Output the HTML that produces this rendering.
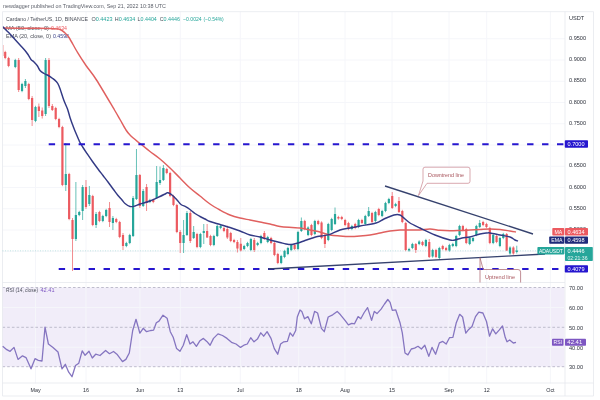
<!DOCTYPE html><html><head><meta charset="utf-8"><title>ADAUSDT chart</title><style>html,body{margin:0;padding:0;background:#fff;}body{width:600px;height:400px;overflow:hidden;}svg{display:block;filter:blur(0.3px);}text{font-family:'Liberation Sans', 'DejaVu Sans', sans-serif;}</style></head><body>
<svg width="600" height="400" viewBox="0 0 600 400">
<rect x="0" y="0" width="600" height="400" fill="#fff"/>
<rect x="2.5" y="287.5" width="562" height="79.2" fill="#f1edf9"/>
<path d="M2.5 38.75H565M2.5 60.00H565M2.5 81.25H565M2.5 102.50H565M2.5 123.75H565M2.5 145.00H565M2.5 166.25H565M2.5 187.50H565M2.5 208.75H565M2.5 230.00H565M2.5 251.25H565M35.50 11.7V383.5M86.00 11.7V383.5M140.00 11.7V383.5M180.30 11.7V383.5M240.30 11.7V383.5M298.70 11.7V383.5M345.00 11.7V383.5M392.00 11.7V383.5M449.00 11.7V383.5M486.70 11.7V383.5M550.40 11.7V383.5M2.5 307.50H565M2.5 347.20H565" stroke="#f5f6fa" stroke-width="1" fill="none"/>
<path d="M2.5 287.50H565" stroke="#b0afc0" stroke-width="0.8" stroke-dasharray="2.6 2.1" fill="none"/>
<path d="M2.5 327.30H565" stroke="#b0afc0" stroke-width="0.8" stroke-dasharray="2.6 2.1" fill="none"/>
<path d="M2.5 366.70H565" stroke="#b0afc0" stroke-width="0.8" stroke-dasharray="2.6 2.1" fill="none"/>
<path d="M2.5 11.7H593.5V396H2.5Z M565 11.7V396 M2.5 282.5H565 M2.5 383H593.5" stroke="#e6e8ee" stroke-width="0.8" fill="none"/>
<text x="3" y="7.6" font-size="5.6" fill="#5a5e68" textLength="163" lengthAdjust="spacingAndGlyphs">newdagger published on TradingView.com, Sep 21, 2022 10:38 UTC</text>
<text x="6" y="21" font-size="5.6" fill="#4a4e58" textLength="82" lengthAdjust="spacingAndGlyphs">Cardano / TetherUS, 1D, BINANCE</text>
<text x="91.50" y="21" font-size="5.6" fill="#26a69a" textLength="21.00" lengthAdjust="spacingAndGlyphs"><tspan fill="#4a4e58">O</tspan>0.4423</text>
<text x="114.80" y="21" font-size="5.6" fill="#26a69a" textLength="20.50" lengthAdjust="spacingAndGlyphs"><tspan fill="#4a4e58">H</tspan>0.4634</text>
<text x="137.60" y="21" font-size="5.6" fill="#26a69a" textLength="19.20" lengthAdjust="spacingAndGlyphs"><tspan fill="#4a4e58">L</tspan>0.4404</text>
<text x="159.70" y="21" font-size="5.6" fill="#26a69a" textLength="20.30" lengthAdjust="spacingAndGlyphs"><tspan fill="#4a4e58">C</tspan>0.4446</text>
<text x="183.00" y="21" font-size="5.6" fill="#26a69a" textLength="18.70" lengthAdjust="spacingAndGlyphs">&#8722;0.0024</text>
<text x="203.40" y="21" font-size="5.6" fill="#26a69a" textLength="20.40" lengthAdjust="spacingAndGlyphs">(&#8722;0.54%)</text>
<text x="6" y="29.5" font-size="5.6" fill="#4a4e58" textLength="43" lengthAdjust="spacingAndGlyphs">MA (50, close, 0)</text>
<text x="51" y="29.5" font-size="5.6" fill="#ec5a60" textLength="16" lengthAdjust="spacingAndGlyphs">0.4634</text>
<text x="6" y="37.8" font-size="5.6" fill="#4a4e58" textLength="45" lengthAdjust="spacingAndGlyphs">EMA (20, close, 0)</text>
<text x="53" y="37.8" font-size="5.6" fill="#333a85" textLength="16" lengthAdjust="spacingAndGlyphs">0.4598</text>
<text x="569" y="20.2" font-size="5.6" fill="#2e323c">USDT</text>
<text x="569" y="39.85" font-size="6.1" fill="#2e323c" textLength="17" lengthAdjust="spacingAndGlyphs">0.9500</text>
<text x="569" y="61.10" font-size="6.1" fill="#2e323c" textLength="17" lengthAdjust="spacingAndGlyphs">0.9000</text>
<text x="569" y="82.35" font-size="6.1" fill="#2e323c" textLength="17" lengthAdjust="spacingAndGlyphs">0.8500</text>
<text x="569" y="103.60" font-size="6.1" fill="#2e323c" textLength="17" lengthAdjust="spacingAndGlyphs">0.8000</text>
<text x="569" y="124.85" font-size="6.1" fill="#2e323c" textLength="17" lengthAdjust="spacingAndGlyphs">0.7500</text>
<text x="569" y="167.35" font-size="6.1" fill="#2e323c" textLength="17" lengthAdjust="spacingAndGlyphs">0.6500</text>
<text x="569" y="188.60" font-size="6.1" fill="#2e323c" textLength="17" lengthAdjust="spacingAndGlyphs">0.6000</text>
<text x="569" y="209.85" font-size="6.1" fill="#2e323c" textLength="17" lengthAdjust="spacingAndGlyphs">0.5500</text>
<text x="569" y="231.10" font-size="6.1" fill="#2e323c" textLength="17" lengthAdjust="spacingAndGlyphs">0.5000</text>
<text x="569" y="290.00" font-size="5.6" fill="#2e323c" textLength="14" lengthAdjust="spacingAndGlyphs">70.00</text>
<text x="569" y="309.50" font-size="5.6" fill="#2e323c" textLength="14" lengthAdjust="spacingAndGlyphs">60.00</text>
<text x="569" y="329.50" font-size="5.6" fill="#2e323c" textLength="14" lengthAdjust="spacingAndGlyphs">50.00</text>
<text x="569" y="349.50" font-size="5.6" fill="#2e323c" textLength="14" lengthAdjust="spacingAndGlyphs">40.00</text>
<text x="569" y="368.70" font-size="5.6" fill="#2e323c" textLength="14" lengthAdjust="spacingAndGlyphs">30.00</text>
<text x="35.50" y="391.8" font-size="5.4" fill="#2e323c" text-anchor="middle">May</text>
<text x="86.00" y="391.8" font-size="5.4" fill="#2e323c" text-anchor="middle">16</text>
<text x="140.00" y="391.8" font-size="5.4" fill="#2e323c" text-anchor="middle">Jun</text>
<text x="180.30" y="391.8" font-size="5.4" fill="#2e323c" text-anchor="middle">13</text>
<text x="240.30" y="391.8" font-size="5.4" fill="#2e323c" text-anchor="middle">Jul</text>
<text x="298.70" y="391.8" font-size="5.4" fill="#2e323c" text-anchor="middle">18</text>
<text x="345.00" y="391.8" font-size="5.4" fill="#2e323c" text-anchor="middle">Aug</text>
<text x="392.00" y="391.8" font-size="5.4" fill="#2e323c" text-anchor="middle">15</text>
<text x="449.00" y="391.8" font-size="5.4" fill="#2e323c" text-anchor="middle">Sep</text>
<text x="486.70" y="391.8" font-size="5.4" fill="#2e323c" text-anchor="middle">12</text>
<text x="550.40" y="391.8" font-size="5.4" fill="#2e323c" text-anchor="middle">Oct</text>
<path d="M2.5 250.8H565" stroke="#26a69a" stroke-width="0.6" stroke-dasharray="1 1.5" fill="none" opacity="0.45"/>
<defs><clipPath id="mp"><rect x="2.9" y="12" width="562" height="270.3"/></clipPath></defs><g clip-path="url(#mp)">
<path d="M5.21 50.80V59.20M8.58 56.80V67.20M18.67 58.00V92.00M28.77 82.80V100.20M32.13 96.00V126.00M38.87 103.50V117.00M42.23 107.50V118.50M48.96 58.00V108.00M52.33 104.00V111.00M55.69 106.80V120.20M59.06 117.80V128.20M62.42 125.80V186.20M69.15 172.80V220.20M72.52 218.00V271.00M85.98 180.00V209.00M92.71 194.80V226.20M99.44 210.80V222.20M109.54 202.00V227.00M116.27 217.80V223.20M119.64 220.80V238.20M123.00 233.00V250.00M139.83 174.00V208.00M146.56 184.00V211.00M153.29 198.80V203.20M166.75 167.80V174.20M170.12 171.80V197.20M173.48 194.80V206.20M176.85 203.80V233.20M180.21 230.00V253.00M190.31 211.00V243.00M197.04 232.80V248.20M207.14 224.00V238.00M210.50 234.80V246.20M223.96 226.80V232.20M227.33 225.60V239.00M230.69 231.80V242.20M234.06 238.80V243.20M237.42 240.00V252.50M240.79 238.00V251.50M254.25 238.00V252.00M264.35 231.00V240.00M271.08 236.80V244.20M274.44 241.80V256.20M277.81 252.80V264.20M294.64 243.80V250.20M304.73 219.80V230.20M311.46 223.80V236.20M318.19 219.80V225.20M321.56 221.30V239.20M324.92 234.00V248.00M338.39 215.80V219.70M341.75 215.80V220.20M345.12 218.80V226.20M348.48 221.80V230.20M355.21 222.80V229.20M361.94 218.80V224.20M372.04 211.80V223.20M378.77 207.80V216.20M392.23 192.00V209.00M398.96 197.00V213.00M402.33 209.80V223.20M405.69 221.80V251.20M415.79 243.00V253.00M422.52 240.80V246.20M429.25 239.00V258.00M435.98 248.80V258.20M442.71 244.80V250.20M446.08 246.80V251.20M462.91 224.80V231.20M466.27 227.80V244.20M483.10 220.80V226.20M486.46 222.80V228.20M489.83 226.80V244.20M496.56 234.80V243.20M506.66 233.00V251.00M513.39 246.30V254.70" stroke="#ec5a60" stroke-width="0.7" fill="none"/>
<path d="M4.11 52.00h2.20v6.00h-2.20zM7.48 58.00h2.20v8.00h-2.20zM17.57 60.00h2.20v30.00h-2.20zM27.67 84.00h2.20v15.00h-2.20zM31.03 98.00h2.20v22.00h-2.20zM37.77 106.50h2.20v4.50h-2.20zM41.13 110.50h2.20v5.50h-2.20zM47.86 60.00h2.20v46.00h-2.20zM51.23 106.00h2.20v4.00h-2.20zM54.59 108.00h2.20v11.00h-2.20zM57.96 119.00h2.20v8.00h-2.20zM61.32 127.00h2.20v58.00h-2.20zM68.05 174.00h2.20v45.00h-2.20zM71.42 220.00h2.20v19.00h-2.20zM84.88 187.00h2.20v20.00h-2.20zM91.61 196.00h2.20v29.00h-2.20zM98.34 212.00h2.20v9.00h-2.20zM108.44 208.00h2.20v14.00h-2.20zM115.17 219.00h2.20v3.00h-2.20zM118.54 222.00h2.20v15.00h-2.20zM121.90 235.00h2.20v11.00h-2.20zM138.73 175.00h2.20v31.00h-2.20zM145.46 187.00h2.20v16.00h-2.20zM152.19 200.00h2.20v2.00h-2.20zM165.65 169.00h2.20v4.00h-2.20zM169.02 173.00h2.20v23.00h-2.20zM172.38 196.00h2.20v9.00h-2.20zM175.75 205.00h2.20v27.00h-2.20zM179.11 232.00h2.20v11.00h-2.20zM189.21 213.00h2.20v28.00h-2.20zM195.94 234.00h2.20v13.00h-2.20zM206.04 231.00h2.20v6.50h-2.20zM209.40 236.00h2.20v9.00h-2.20zM222.86 228.00h2.20v3.00h-2.20zM226.23 229.00h2.20v8.50h-2.20zM229.59 233.00h2.20v8.00h-2.20zM232.96 240.00h2.20v2.00h-2.20zM236.32 242.00h2.20v6.50h-2.20zM239.69 243.75h2.20v6.85h-2.20zM253.15 240.00h2.20v10.00h-2.20zM263.25 233.00h2.20v6.00h-2.20zM269.98 238.00h2.20v5.00h-2.20zM273.34 243.00h2.20v12.00h-2.20zM276.71 254.00h2.20v9.00h-2.20zM293.54 245.00h2.20v4.00h-2.20zM303.63 221.00h2.20v8.00h-2.20zM310.36 225.00h2.20v10.00h-2.20zM317.09 221.00h2.20v3.00h-2.20zM320.46 222.50h2.20v15.50h-2.20zM323.82 236.00h2.20v8.00h-2.20zM337.29 217.00h2.20v1.50h-2.20zM340.65 217.00h2.20v2.00h-2.20zM344.02 220.00h2.20v5.00h-2.20zM347.38 223.00h2.20v6.00h-2.20zM354.11 224.00h2.20v4.00h-2.20zM360.84 220.00h2.20v3.00h-2.20zM370.94 213.00h2.20v9.00h-2.20zM377.67 209.00h2.20v6.00h-2.20zM391.13 196.00h2.20v12.00h-2.20zM397.86 201.00h2.20v11.00h-2.20zM401.23 211.00h2.20v11.00h-2.20zM404.59 223.00h2.20v27.00h-2.20zM414.69 244.00h2.20v6.00h-2.20zM421.42 242.00h2.20v3.00h-2.20zM428.15 242.00h2.20v15.00h-2.20zM434.88 250.00h2.20v7.00h-2.20zM441.61 246.00h2.20v3.00h-2.20zM444.98 248.00h2.20v2.00h-2.20zM461.81 226.00h2.20v4.00h-2.20zM465.17 229.00h2.20v14.00h-2.20zM482.00 222.00h2.20v3.00h-2.20zM485.36 224.00h2.20v3.00h-2.20zM488.73 228.00h2.20v15.00h-2.20zM495.46 236.00h2.20v6.00h-2.20zM505.56 234.00h2.20v16.50h-2.20zM512.29 247.50h2.20v6.00h-2.20z" fill="#ec5a60"/>
<path d="M15.31 58.80V68.20M22.04 82.80V92.20M25.40 79.00V88.00M35.50 105.80V122.20M45.60 58.00V116.00M65.79 143.00V191.00M75.88 182.00V241.00M79.25 210.80V216.20M82.62 185.00V220.00M89.35 186.00V206.00M96.08 212.00V228.00M102.81 214.80V222.20M106.17 208.80V217.20M112.90 216.00V230.00M126.37 241.80V247.20M129.73 233.80V244.20M133.10 196.00V237.00M136.46 149.00V200.00M143.19 189.00V207.00M149.92 198.80V203.20M156.65 166.00V199.00M160.02 166.50V185.00M163.39 165.00V181.00M183.58 220.00V253.00M186.94 211.00V236.00M193.67 226.00V239.00M200.40 232.80V248.20M203.77 224.00V244.00M213.87 234.80V246.20M217.23 224.50V237.00M220.60 224.80V229.20M244.15 244.80V250.20M247.52 241.80V247.20M250.89 237.80V251.20M257.62 241.80V246.20M260.98 234.80V244.20M267.71 235.80V243.20M281.17 254.80V264.20M284.54 249.80V258.20M287.90 246.80V255.20M291.27 243.80V251.20M298.00 230.80V250.20M301.37 217.50V232.00M308.10 226.30V236.20M314.83 219.80V235.20M328.29 222.80V241.20M331.66 217.80V231.20M335.02 207.50V225.00M351.85 224.80V230.20M358.58 218.80V228.20M365.31 214.80V225.20M368.67 207.00V217.00M375.41 210.80V222.20M382.14 209.80V217.20M385.50 201.80V212.20M388.87 197.80V204.20M395.60 202.80V207.20M409.06 247.80V251.70M412.42 242.80V249.20M419.16 240.30V245.20M425.89 238.80V247.20M432.62 248.80V257.70M439.35 246.80V259.20M449.44 243.80V251.70M452.81 242.80V247.20M456.18 234.80V247.20M459.54 224.80V236.20M469.64 236.80V245.20M473.00 236.80V242.20M476.37 224.80V236.20M479.73 220.00V228.00M493.19 233.80V244.20M499.93 236.80V247.20M503.29 232.80V239.20M510.02 246.30V254.70M516.75 245.70V253.50" stroke="#26a69a" stroke-width="0.7" fill="none"/>
<path d="M14.21 60.00h2.20v7.00h-2.20zM20.94 84.00h2.20v7.00h-2.20zM24.30 81.00h2.20v5.00h-2.20zM34.40 107.00h2.20v14.00h-2.20zM44.50 60.00h2.20v54.00h-2.20zM64.69 174.00h2.20v11.00h-2.20zM74.78 215.00h2.20v24.00h-2.20zM78.15 212.00h2.20v3.00h-2.20zM81.52 187.00h2.20v24.00h-2.20zM88.25 195.00h2.20v9.00h-2.20zM94.98 214.00h2.20v11.00h-2.20zM101.71 216.00h2.20v5.00h-2.20zM105.07 210.00h2.20v6.00h-2.20zM111.80 218.00h2.20v5.00h-2.20zM125.27 243.00h2.20v3.00h-2.20zM128.63 235.00h2.20v8.00h-2.20zM132.00 198.00h2.20v38.00h-2.20zM135.36 175.00h2.20v24.00h-2.20zM142.09 191.00h2.20v15.00h-2.20zM148.82 200.00h2.20v2.00h-2.20zM155.55 182.00h2.20v16.00h-2.20zM158.92 180.00h2.20v3.00h-2.20zM162.29 168.00h2.20v12.00h-2.20zM182.48 235.00h2.20v8.00h-2.20zM185.84 213.00h2.20v22.00h-2.20zM192.57 232.00h2.20v6.00h-2.20zM199.30 234.00h2.20v13.00h-2.20zM202.67 231.00h2.20v2.00h-2.20zM212.77 236.00h2.20v9.00h-2.20zM216.13 226.00h2.20v10.00h-2.20zM219.50 226.00h2.20v2.00h-2.20zM243.05 246.00h2.20v3.00h-2.20zM246.42 243.00h2.20v3.00h-2.20zM249.79 239.00h2.20v11.00h-2.20zM256.52 243.00h2.20v2.00h-2.20zM259.88 236.00h2.20v7.00h-2.20zM266.61 237.00h2.20v5.00h-2.20zM280.07 256.00h2.20v7.00h-2.20zM283.44 251.00h2.20v6.00h-2.20zM286.80 248.00h2.20v6.00h-2.20zM290.17 245.00h2.20v5.00h-2.20zM296.90 232.00h2.20v17.00h-2.20zM300.27 221.00h2.20v10.00h-2.20zM307.00 227.50h2.20v7.50h-2.20zM313.73 221.00h2.20v13.00h-2.20zM327.19 224.00h2.20v16.00h-2.20zM330.56 219.00h2.20v11.00h-2.20zM333.92 214.00h2.20v10.00h-2.20zM350.75 226.00h2.20v3.00h-2.20zM357.48 220.00h2.20v7.00h-2.20zM364.21 216.00h2.20v8.00h-2.20zM367.57 211.00h2.20v5.00h-2.20zM374.31 212.00h2.20v9.00h-2.20zM381.04 211.00h2.20v5.00h-2.20zM384.40 203.00h2.20v8.00h-2.20zM387.77 199.00h2.20v4.00h-2.20zM394.50 204.00h2.20v2.00h-2.20zM407.96 249.00h2.20v1.50h-2.20zM411.32 244.00h2.20v4.00h-2.20zM418.06 241.50h2.20v2.50h-2.20zM424.79 240.00h2.20v6.00h-2.20zM431.52 250.00h2.20v6.50h-2.20zM438.25 248.00h2.20v10.00h-2.20zM448.34 245.00h2.20v5.50h-2.20zM451.71 244.00h2.20v2.00h-2.20zM455.07 236.00h2.20v10.00h-2.20zM458.44 226.00h2.20v9.00h-2.20zM468.54 238.00h2.20v6.00h-2.20zM471.90 238.00h2.20v3.00h-2.20zM475.27 226.00h2.20v9.00h-2.20zM478.63 223.00h2.20v4.00h-2.20zM492.09 235.00h2.20v8.00h-2.20zM498.83 238.00h2.20v8.00h-2.20zM502.19 234.00h2.20v4.00h-2.20zM508.92 247.50h2.20v6.00h-2.20zM515.65 250.60h2.20v1.50h-2.20z" fill="#26a69a"/>
<path d="M3.00 28.00 C7.50 28.05 22.17 28.22 30.00 28.30 C37.83 28.38 45.00 28.30 50.00 28.50 C55.00 28.70 57.50 28.75 60.00 29.50 C62.50 30.25 63.50 31.67 65.00 33.00 C66.50 34.33 66.92 34.27 69.00 37.50 C71.08 40.73 74.67 47.73 77.50 52.40 C80.33 57.07 82.83 60.90 86.00 65.50 C89.17 70.10 91.75 72.58 96.50 80.00 C101.25 87.42 110.58 103.42 114.50 110.00 C118.42 116.58 118.08 116.17 120.00 119.50 C121.92 122.83 124.33 127.42 126.00 130.00 C127.67 132.58 128.00 133.00 130.00 135.00 C132.00 137.00 136.00 140.33 138.00 142.00 C140.00 143.67 140.00 143.42 142.00 145.00 C144.00 146.58 147.00 149.17 150.00 151.50 C153.00 153.83 156.67 156.25 160.00 159.00 C163.33 161.75 166.67 164.83 170.00 168.00 C173.33 171.17 176.67 174.67 180.00 178.00 C183.33 181.33 186.67 185.00 190.00 188.00 C193.33 191.00 196.67 193.33 200.00 196.00 C203.33 198.67 206.67 201.67 210.00 204.00 C213.33 206.33 216.67 208.17 220.00 210.00 C223.33 211.83 226.67 213.67 230.00 215.00 C233.33 216.33 236.67 217.17 240.00 218.00 C243.33 218.83 246.67 219.33 250.00 220.00 C253.33 220.67 256.67 221.33 260.00 222.00 C263.33 222.67 266.67 223.25 270.00 224.00 C273.33 224.75 276.33 225.92 280.00 226.50 C283.67 227.08 288.67 227.25 292.00 227.50 C295.33 227.75 297.00 227.58 300.00 228.00 C303.00 228.42 307.00 229.42 310.00 230.00 C313.00 230.58 314.67 230.67 318.00 231.50 C321.33 232.33 326.33 234.25 330.00 235.00 C333.67 235.75 336.67 235.75 340.00 236.00 C343.33 236.25 346.67 236.50 350.00 236.50 C353.33 236.50 356.67 236.25 360.00 236.00 C363.33 235.75 366.67 235.50 370.00 235.00 C373.33 234.50 376.67 233.67 380.00 233.00 C383.33 232.33 386.67 231.50 390.00 231.00 C393.33 230.50 396.67 230.17 400.00 230.00 C403.33 229.83 406.67 230.00 410.00 230.00 C413.33 230.00 416.67 230.17 420.00 230.00 C423.33 229.83 426.67 228.95 430.00 229.00 C433.33 229.05 436.67 230.00 440.00 230.30 C443.33 230.60 446.67 230.77 450.00 230.80 C453.33 230.83 456.67 230.63 460.00 230.50 C463.33 230.37 466.67 230.17 470.00 230.00 C473.33 229.83 476.67 229.67 480.00 229.50 C483.33 229.33 486.67 229.00 490.00 229.00 C493.33 229.00 496.67 229.17 500.00 229.50 C503.33 229.83 507.33 230.58 510.00 231.00 C512.67 231.42 515.00 231.83 516.00 232.00" stroke="#e0605f" stroke-width="1.45" fill="none" stroke-linejoin="round"/>
<path d="M2.50 26.50 C3.25 27.25 5.75 29.75 7.00 31.00 C8.25 32.25 8.67 32.58 10.00 34.00 C11.33 35.42 13.33 37.67 15.00 39.50 C16.67 41.33 18.33 43.17 20.00 45.00 C21.67 46.83 23.67 48.92 25.00 50.50 C26.33 52.08 27.00 53.00 28.00 54.50 C29.00 56.00 30.00 58.25 31.00 59.50 C32.00 60.75 32.92 60.92 34.00 62.00 C35.08 63.08 36.50 64.58 37.50 66.00 C38.50 67.42 38.92 69.25 40.00 70.50 C41.08 71.75 42.55 72.62 44.00 73.50 C45.45 74.38 47.37 75.00 48.70 75.75 C50.03 76.50 50.83 77.12 52.00 78.00 C53.17 78.88 54.53 79.67 55.70 81.00 C56.87 82.33 57.66 82.83 59.00 86.00 C60.34 89.17 62.33 96.17 63.75 100.00 C65.17 103.83 66.46 106.08 67.50 109.00 C68.54 111.92 69.17 114.92 70.00 117.50 C70.83 120.08 71.67 122.25 72.50 124.50 C73.33 126.75 74.08 128.75 75.00 131.00 C75.92 133.25 77.17 136.08 78.00 138.00 C78.83 139.92 79.17 140.92 80.00 142.50 C80.83 144.08 81.83 145.67 83.00 147.50 C84.17 149.33 85.42 151.17 87.00 153.50 C88.58 155.83 90.67 158.92 92.50 161.50 C94.33 164.08 96.25 166.67 98.00 169.00 C99.75 171.33 101.33 173.33 103.00 175.50 C104.67 177.67 106.25 179.67 108.00 182.00 C109.75 184.33 111.83 187.25 113.50 189.50 C115.17 191.75 116.58 193.75 118.00 195.50 C119.42 197.25 120.83 198.67 122.00 200.00 C123.17 201.33 123.67 202.42 125.00 203.50 C126.33 204.58 128.33 206.08 130.00 206.50 C131.67 206.92 133.33 206.42 135.00 206.00 C136.67 205.58 137.50 204.83 140.00 204.00 C142.50 203.17 146.67 202.25 150.00 201.00 C153.33 199.75 157.33 197.75 160.00 196.50 C162.67 195.25 164.67 194.12 166.00 193.50 C167.33 192.88 167.00 192.55 168.00 192.80 C169.00 193.05 170.50 193.80 172.00 195.00 C173.50 196.20 175.50 198.42 177.00 200.00 C178.50 201.58 179.50 203.37 181.00 204.50 C182.50 205.63 184.50 205.97 186.00 206.80 C187.50 207.63 188.50 208.38 190.00 209.50 C191.50 210.62 193.33 212.33 195.00 213.50 C196.67 214.67 198.33 215.58 200.00 216.50 C201.67 217.42 203.33 218.17 205.00 219.00 C206.67 219.83 207.50 220.58 210.00 221.50 C212.50 222.42 216.67 223.50 220.00 224.50 C223.33 225.50 226.67 226.42 230.00 227.50 C233.33 228.58 236.67 229.75 240.00 231.00 C243.33 232.25 246.67 234.00 250.00 235.00 C253.33 236.00 256.67 236.17 260.00 237.00 C263.33 237.83 266.67 239.08 270.00 240.00 C273.33 240.92 277.33 241.83 280.00 242.50 C282.67 243.17 284.00 243.67 286.00 244.00 C288.00 244.33 290.00 244.67 292.00 244.50 C294.00 244.33 295.83 243.67 298.00 243.00 C300.17 242.33 302.83 241.25 305.00 240.50 C307.17 239.75 308.92 239.17 311.00 238.50 C313.08 237.83 315.38 236.98 317.50 236.50 C319.62 236.02 321.67 235.95 323.75 235.60 C325.83 235.25 327.29 235.33 330.00 234.40 C332.71 233.47 336.67 231.07 340.00 230.00 C343.33 228.93 346.67 228.67 350.00 228.00 C353.33 227.33 355.67 226.83 360.00 226.00 C364.33 225.17 372.00 224.17 376.00 223.00 C380.00 221.83 381.00 220.33 384.00 219.00 C387.00 217.67 391.33 215.67 394.00 215.00 C396.67 214.33 398.17 214.33 400.00 215.00 C401.83 215.67 403.33 217.67 405.00 219.00 C406.67 220.33 407.50 221.50 410.00 223.00 C412.50 224.50 415.83 226.00 420.00 228.00 C424.17 230.00 430.00 233.00 435.00 235.00 C440.00 237.00 446.67 239.17 450.00 240.00 C453.33 240.83 453.00 240.33 455.00 240.00 C457.00 239.67 459.50 238.50 462.00 238.00 C464.50 237.50 467.00 237.67 470.00 237.00 C473.00 236.33 477.17 234.67 480.00 234.00 C482.83 233.33 485.33 233.17 487.00 233.00 C488.67 232.83 487.83 232.67 490.00 233.00 C492.17 233.33 496.67 234.33 500.00 235.00 C503.33 235.67 507.50 236.17 510.00 237.00 C512.50 237.83 513.67 239.33 515.00 240.00 C516.33 240.67 517.50 240.83 518.00 241.00" stroke="#333a85" stroke-width="1.45" fill="none" stroke-linejoin="round"/>
<path d="M3.2 45V56" stroke="#ec5a60" stroke-width="1" opacity="0.45"/>
</g>
<path d="M48.7 144.2H565" stroke="#2616cf" stroke-width="2" stroke-dasharray="6.4 8.55" fill="none"/>
<path d="M58.7 269H565" stroke="#2616cf" stroke-width="2" stroke-dasharray="6.4 8.55" fill="none"/>
<path d="M385 186L533 234" stroke="#36426e" stroke-width="1.35" fill="none"/>
<path d="M268.3 269L545 254" stroke="#36426e" stroke-width="1.35" fill="none"/>
<path d="M425 167.2H468Q470 167.2 470 169.2V181.3Q470 183.3 468 183.3H427L418.5 195.5L423 181V169.2Q423 167.2 425 167.2Z" fill="#fff" stroke="#c9848e" stroke-width="0.7"/>
<text x="428" y="176.8" font-size="4.6" fill="#a8545c" textLength="36" lengthAdjust="spacingAndGlyphs">Downtrend line</text>
<path d="M480 257.7V282.5 M480 257.7L483.2 269.5H518Q520.6 269.5 520.6 272.1V282.5" fill="none" stroke="#b07078" stroke-width="0.8"/>
<text x="485" y="279.3" font-size="4.6" fill="#a8545c" textLength="30" lengthAdjust="spacingAndGlyphs">Uptrend line</text>
<rect x="564.80" y="140.30" width="23.20" height="7.40" fill="#2616cf" rx="0.8"/>
<text x="567.50" y="146.00" font-size="5.4" fill="#fff" textLength="17" lengthAdjust="spacingAndGlyphs">0.7000</text>
<rect x="552.30" y="228.00" width="12.00" height="7.50" fill="#ec5a60" rx="0.8"/>
<text x="558.30" y="233.80" font-size="5.2" fill="#fff" text-anchor="middle">MA</text>
<rect x="565.00" y="228.00" width="23.00" height="7.50" fill="#ec5a60" rx="0.8"/>
<text x="567.50" y="233.80" font-size="5.4" fill="#fff" textLength="17" lengthAdjust="spacingAndGlyphs">0.4634</text>
<rect x="549.20" y="236.60" width="15.20" height="7.20" fill="#1f2a7a" rx="0.8"/>
<text x="556.80" y="242.20" font-size="5.2" fill="#fff" text-anchor="middle">EMA</text>
<rect x="565.00" y="236.60" width="23.00" height="7.20" fill="#1f2a7a" rx="0.8"/>
<text x="567.50" y="242.20" font-size="5.4" fill="#fff" textLength="17" lengthAdjust="spacingAndGlyphs">0.4598</text>
<rect x="537.40" y="247.00" width="27.00" height="7.40" fill="#26a69a" rx="0.8"/>
<text x="550.90" y="252.80" font-size="5.0" fill="#fff" textLength="24" lengthAdjust="spacingAndGlyphs" text-anchor="middle">ADAUSDT</text>
<rect x="565.00" y="247.00" width="27.80" height="14.00" fill="#26a69a" rx="0.8"/>
<text x="567.50" y="252.80" font-size="5.4" fill="#fff" textLength="17" lengthAdjust="spacingAndGlyphs">0.4446</text>
<text x="567.50" y="259.60" font-size="5.0" fill="#e8f6f4" textLength="20" lengthAdjust="spacingAndGlyphs">02:21:36</text>
<rect x="564.80" y="265.20" width="23.20" height="7.40" fill="#2616cf" rx="0.8"/>
<text x="567.50" y="270.90" font-size="5.4" fill="#fff" textLength="17" lengthAdjust="spacingAndGlyphs">0.4079</text>
<path d="M2.70 346.30 L6.80 349.70 L10.10 351.30 L14.00 347.40 L18.00 359.40 L22.50 355.80 L26.00 357.60 L31.00 368.80 L35.00 358.70 L38.30 360.30 L42.00 361.00 L45.00 327.20 L48.40 344.00 L53.00 347.40 L58.00 352.00 L62.00 368.80 L65.30 364.30 L68.70 372.20 L72.00 376.70 L75.50 365.50 L78.80 363.20 L82.20 350.80 L85.10 355.30 L89.00 351.30 L92.30 358.00 L95.70 354.20 L100.00 355.50 L105.60 350.40 L109.50 353.70 L113.50 351.50 L116.90 354.20 L122.50 361.60 L125.90 359.40 L129.30 353.00 L132.70 330.50 L136.00 319.30 L139.90 333.20 L143.20 328.30 L146.60 331.70 L150.70 330.50 L153.60 330.10 L156.30 322.70 L159.00 321.10 L163.00 315.20 L167.10 318.20 L170.30 331.70 L173.20 337.30 L176.60 348.60 L180.00 351.30 L183.30 345.20 L186.70 334.60 L190.00 344.00 L193.00 341.80 L196.40 346.30 L200.00 340.70 L203.40 338.40 L206.80 341.40 L210.10 345.20 L213.50 338.40 L218.00 333.90 L222.50 335.50 L227.00 338.40 L231.50 342.30 L236.00 344.00 L240.50 347.40 L243.90 345.20 L247.30 344.00 L250.70 337.70 L254.00 341.80 L257.40 339.10 L260.80 332.80 L263.70 336.20 L267.10 331.70 L271.00 338.40 L274.30 348.60 L277.70 354.20 L280.60 344.00 L283.80 341.80 L287.40 341.40 L290.10 332.80 L292.80 336.20 L295.70 330.50 L297.30 317.00 L300.00 310.00 L301.80 311.40 L304.50 318.80 L307.90 316.60 L311.30 323.80 L314.60 311.40 L317.60 313.00 L321.40 328.30 L324.30 331.70 L328.20 317.00 L332.70 314.80 L337.20 311.40 L340.50 314.80 L345.00 320.40 L348.40 324.90 L351.80 323.30 L354.50 323.80 L358.10 316.60 L360.80 318.80 L364.20 312.50 L367.60 307.60 L371.60 320.40 L374.30 311.40 L377.00 313.60 L381.10 309.10 L384.50 304.00 L387.80 299.50 L390.10 302.40 L392.30 310.30 L395.70 309.80 L400.00 322.70 L402.30 332.80 L405.00 353.00 L407.90 354.90 L411.30 349.00 L414.60 348.10 L418.00 346.30 L421.40 349.00 L424.80 345.20 L428.80 356.40 L432.00 347.40 L435.60 354.20 L439.40 342.90 L442.80 341.40 L446.20 344.00 L449.50 337.70 L452.90 337.30 L456.30 322.70 L459.70 314.30 L462.60 317.00 L465.80 333.20 L468.70 329.40 L472.00 326.50 L475.50 316.60 L478.80 312.10 L482.90 313.00 L486.50 321.50 L489.50 336.20 L492.60 328.80 L495.80 333.90 L499.10 330.10 L502.50 326.00 L505.20 337.30 L507.00 341.80 L509.70 340.00 L513.30 343.00 L516.00 342.30" stroke="#8575c0" stroke-width="1.3" fill="none" stroke-linejoin="round"/>
<text x="6.00" y="292.30" font-size="5.4" fill="#4a4e58" textLength="32" lengthAdjust="spacingAndGlyphs">RSI (14, close)</text>
<text x="40.50" y="292.30" font-size="5.4" fill="#7e57c2" textLength="14" lengthAdjust="spacingAndGlyphs">42.41</text>
<rect x="552.00" y="338.75" width="11.50" height="7.00" fill="#7e57c2" rx="0.8"/>
<text x="557.75" y="344.20" font-size="5.0" fill="#fff" text-anchor="middle">RSI</text>
<rect x="565.00" y="338.75" width="21.00" height="7.00" fill="#7e57c2" rx="0.8"/>
<text x="567.30" y="344.20" font-size="5.4" fill="#fff" textLength="15" lengthAdjust="spacingAndGlyphs">42.41</text>
</svg></body></html>
